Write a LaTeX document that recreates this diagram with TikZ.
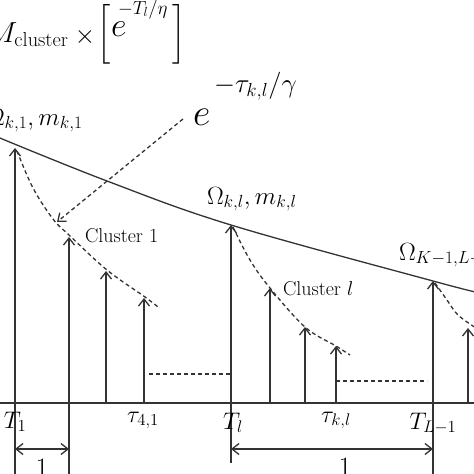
\RequirePackage{fix-cm}
\documentclass[tikz,border=0pt]{standalone}
\usepackage{amsmath}
\usetikzlibrary{arrows.meta}
\begin{document}
\begin{tikzpicture}[x=1pt,y=-1pt,
  ln/.style={draw=black!80, line width=1.3pt},
  vec/.style={ln,-{Straight Barb[length=7pt,width=11pt]}},
  dsh/.style={ln, dash pattern=on 4pt off 3pt},
  dimline/.style={ln,{Straight Barb[length=7pt,width=11pt]}-{Straight Barb[length=7pt,width=11pt]}},
  lbl/.style={inner sep=0pt, outer sep=0pt, anchor=base west},
  axlbl/.style={inner sep=0pt, outer sep=0pt, anchor=base, font=\fontsize{24}{28}\selectfont},
  omlbl/.style={lbl, font=\fontsize{25}{30}\selectfont},
  cllbl/.style={lbl, font=\fontsize{20}{24}\selectfont}]
\useasboundingbox (0,0) rectangle (474,474);
\clip (0,0) rectangle (474,474);

% axis
\coordinate (axL) at (-5,403);
\coordinate (axR) at (480,403);
\draw[ln, line width=1.6pt] (axL) -- (axR);

% bases and tops of the arrows
\foreach \n/\x/\y in {1/15/148, 2/69/237, 3/106/271, 4/144/298, 5/231/225,
                      6/270/288, 7/305/327, 8/336/346, 9/433/281, 10/468/328}{
  \coordinate (b\n) at (\x,403);
  \coordinate (t\n) at (\x,\y);
  \draw[vec] (b\n) -- (t\n);
}
% extensions below the axis
\coordinate (e1) at (15,480);
\coordinate (e2) at (69,480);
\coordinate (e5) at (231,463);
\coordinate (e9) at (433,480);
\draw[ln] (b1) -- (e1);
\draw[ln] (b2) -- (e2);
\draw[ln] (b5) -- (e5);
\draw[ln] (b9) -- (e9);

% dashed horizontal gaps
\coordinate (g1a) at (149,374); \coordinate (g1b) at (231,374);
\coordinate (g2a) at (336,381); \coordinate (g2b) at (427,381);
\draw[dsh] (g1a) -- (g1b);
\draw[dsh] (g2a) -- (g2b);

% envelope curve
\draw[ln] plot[smooth, tension=0.6] coordinates {(-5,136) (107,181) (231,225) (433,281) (480,293)};

% cluster decay curves
\draw[dsh] plot[smooth, tension=0.6] coordinates {(17,151) (33,188) (53,219) (69,235) (107,270) (145,297) (158,307)};
\draw[dsh] plot[smooth, tension=0.6] coordinates {(233,227) (250,260) (270,288) (305,327) (336,346) (350,355)};
\draw[dsh] plot[smooth, tension=0.6] coordinates {(435,283) (447,300) (458,315) (476,328)};

% pointer arrow
\coordinate (pA) at (183,119);
\coordinate (pB) at (57,222);
\draw[dsh,-{Straight Barb[length=7pt,width=11pt]}] (pA) -- (pB);

% dimension arrows
\coordinate (d1a) at (15,449); \coordinate (d1b) at (69,449);
\coordinate (d2a) at (231,449); \coordinate (d2b) at (433,449);
\draw[dimline] (d1a) -- (d1b);
\draw[dimline] (d2a) -- (d2b);
\node[inner sep=0pt, anchor=north, font=\fontsize{28}{32}\selectfont] (one1) at (42,459) {1};
\node[inner sep=0pt, anchor=north, font=\fontsize{28}{32}\selectfont] (one2) at (345,458) {1};

% axis labels
\node[axlbl] (lT1) at (15,428) {$T_1$};
\node[axlbl] (lt41) at (143,422) {$\tau_{4,1}$};
\node[axlbl] (lTl) at (233,429) {$T_l$};
\node[axlbl] (ltkl) at (336,422) {$\tau_{k,l}$};
\node[axlbl] (lTL) at (433,429) {$T_{L-1}$};

% point labels
\node[omlbl] (om1) at (-12,125) {$\Omega_{k,1},m_{k,1}$};
\node[omlbl] (oml) at (207,204) {$\Omega_{k,l},m_{k,l}$};
\node[omlbl] (omL) at (399,260) {$\Omega_{K-1,L-1},m_{K-1,L-1}$};

% cluster labels
\node[cllbl] (c1) at (85,242) {Cluster 1};
\node[cllbl] (cl) at (283,295) {Cluster $l$};

% decay label
\node[lbl, font=\fontsize{38}{42}\selectfont] (ee) at (193,125) {$e$};
\node[lbl, font=\fontsize{27}{30}\selectfont] (eesup) at (214,92) {$-\tau_{k,l}/\gamma$};

% top formula
\node[lbl, font=\fontsize{29}{33}\selectfont] (Mc) at (-13,42) {$M_{\mathrm{cluster}}$};
\node[inner sep=0pt, font=\fontsize{26}{30}\selectfont] (tm) at (85,37) {$\times$};
\node[inner sep=0pt, anchor=north west, font=\fontsize{26}{30}\selectfont] (brL) at (97,3) {$\bigg[$};
\node[lbl, font=\fontsize{34}{38}\selectfont] (eb) at (111,36) {$e$};
\node[lbl, font=\fontsize{19}{22}\selectfont] (ebsup) at (118,14) {$-T_l/\eta$};
\node[inner sep=0pt, anchor=north east, font=\fontsize{26}{30}\selectfont] (brR) at (186,3) {$\bigg]$};
\end{tikzpicture}
\end{document}
